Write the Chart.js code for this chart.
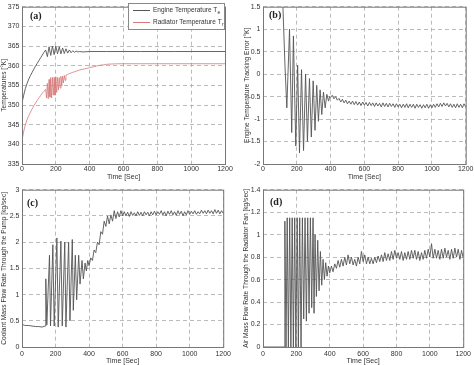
<!DOCTYPE html>
<html lang="en">
<head>
<meta charset="UTF-8" />
<title>Engine cooling simulation</title>
<script src="https://cdn.jsdelivr.net/npm/chart.js@4.4.1/dist/chart.umd.min.js"></script>
<style>
  body { margin: 0; background: #fff; }
  canvas { position: absolute; }
  #chartA { left: 0; top: 0; }
  #chartB { left: 234px; top: 0; }
  #chartC { left: 0; top: 183px; }
  #chartD { left: 234px; top: 183px; }
</style>
</head>
<body>
<canvas id="chartA" width="234" height="182"></canvas>
<canvas id="chartB" width="240" height="182"></canvas>
<canvas id="chartC" width="234" height="182"></canvas>
<canvas id="chartD" width="240" height="182"></canvas>

<script>
// ---- data ----
const timeTicks = [0, 200, 400, 600, 800, 1000, 1200];
const tempTicks = [335, 340, 345, 350, 355, 360, 365, 370, 375];
const errorTicks = [-2, -1.5, -1, -0.5, 0, 0.5, 1, 1.5];
const coolantTicks = [0, 0.5, 1, 1.5, 2, 2.5, 3];
const airTicks = [0, 0.2, 0.4, 0.6, 0.8, 1, 1.2, 1.4];

// (a) temperatures
const timeEngine = [0,10,20,30,40,50,60,70,80,90,100,110,120,130,140,150,160,170,180,190,200,210,220,230,240,250,260,270,280,290,300,310,320,330,340,360,400,500,600,700,800,900,1000,1100,1200];
const engineTemp = [350.5,352.5,354.2,355.5,356.6,357.5,358.3,359.1,359.9,360.6,361.3,362.0,362.7,363.4,364.0,362.3,364.8,362.6,365.0,362.8,365.0,363.0,364.8,363.0,364.5,363.1,364.3,363.2,364.0,363.3,363.8,363.4,363.7,363.5,363.6,363.5,363.6,363.6,363.6,363.6,363.6,363.6,363.6,363.6,363.6];
const timeRadiator = [0,10,20,30,40,50,60,70,80,90,100,110,120,130,140,145,150,155,160,165,170,175,180,185,190,195,200,205,210,215,220,225,230,235,240,245,250,255,260,270,280,300,320,340,360,380,400,420,440,460,480,500,540,580,600,700,800,900,1000,1100,1200];
const radiatorTemp = [341.0,343.3,345.0,346.3,347.3,348.2,349.0,349.8,350.5,351.2,351.8,352.4,353.0,353.5,354.0,351.8,355.5,351.6,356.5,352.0,357.0,351.8,357.0,352.5,357.0,352.5,357.2,353.2,357.0,353.8,357.0,354.3,357.3,354.8,357.3,355.6,357.5,356.3,357.6,357.8,358.0,358.3,358.6,358.9,359.1,359.3,359.5,359.7,359.9,360.1,360.2,360.35,360.45,360.5,360.5,360.5,360.5,360.5,360.5,360.5,360.5];

// shared sampling of the settled part (400..1200 s)
const timeTail = [400,410,420,430,440,450,460,470,480,490,500,510,520,530,540,550,560,570,580,590,600,610,620,630,640,650,660,670,680,690,700,710,720,730,740,750,760,770,780,790,800,810,820,830,840,850,860,870,880,890,900,910,920,930,940,950,960,970,980,990,1000,1010,1020,1030,1040,1050,1060,1070,1080,1090,1100,1110,1120,1130,1140,1150,1160,1170,1180,1190,1200];

// (b) tracking error
const timeErrorHead = [100,110,118,130,141,157,170,180,194,205,216,228,240,252,263,275,286,297,308,318,328,338,348,358,368,378,388,395];
const errorHead = [2.2,1.8,1.5,0.2,-0.75,1.0,-1.3,0.85,-1.6,0.2,-1.75,0.1,-1.7,0.0,-1.5,-0.1,-1.4,-0.15,-1.25,-0.25,-1.05,-0.35,-0.9,-0.4,-0.75,-0.45,-0.6,-0.5];
const errorTail = [-0.52,-0.47,-0.55,-0.5,-0.58,-0.54,-0.62,-0.56,-0.64,-0.58,-0.66,
  -0.6,-0.67,-0.6,-0.68,-0.61,-0.69,-0.62,-0.7,-0.62,-0.69,
  -0.63,-0.71,-0.63,-0.7,-0.64,-0.72,-0.64,-0.71,-0.65,-0.73,
  -0.64,-0.72,-0.65,-0.73,-0.65,-0.72,-0.66,-0.74,-0.66,-0.73,
  -0.67,-0.75,-0.67,-0.74,-0.66,-0.75,-0.67,-0.74,-0.67,-0.76,
  -0.67,-0.74,-0.68,-0.76,-0.68,-0.75,-0.67,-0.76,-0.68,-0.75,
  -0.67,-0.74,-0.66,-0.73,-0.65,-0.72,-0.64,-0.71,-0.65,-0.73,
  -0.66,-0.74,-0.67,-0.75,-0.66,-0.74,-0.67,-0.75,-0.66,-0.73];

// (c) coolant flow through the pump
const timeCoolantHead = [0,20,40,60,80,100,120,138,142,148,164,170,184,192,208,216,232,240,255,262,278,286,300,306,318,326,338,346,358,366,376,384,392];
const coolantHead = [0.43,0.41,0.41,0.4,0.39,0.39,0.38,0.4,1.3,0.42,1.75,0.4,1.95,0.4,2.08,0.38,2.02,0.4,2.0,0.38,2.0,0.5,2.05,0.7,1.75,0.9,1.75,1.2,1.65,1.3,1.6,1.45,1.65];
const coolantTail = [1.55,1.7,1.65,1.85,1.8,2.0,1.95,2.2,2.15,2.4,2.3,
  2.5,2.35,2.52,2.4,2.6,2.45,2.58,2.48,2.6,2.5,
  2.58,2.5,2.57,2.49,2.58,2.51,2.56,2.5,2.58,2.51,
  2.57,2.5,2.58,2.52,2.57,2.5,2.58,2.52,2.59,2.52,
  2.58,2.53,2.6,2.52,2.58,2.5,2.59,2.53,2.6,2.52,
  2.58,2.51,2.6,2.53,2.59,2.5,2.58,2.52,2.6,2.53,
  2.59,2.54,2.6,2.53,2.58,2.54,2.61,2.55,2.6,2.54,
  2.61,2.55,2.6,2.54,2.62,2.55,2.61,2.54,2.6,2.55];

// (d) air flow through the radiator fan
const timeAirHead = [0,130,131,138,145,152,160,167,175,182,190,197,205,212,220,228,236,244,252,260,268,276,284,292,300,306,312,320,328,336,344,352,360,368,376,384,392];
const airHead = [0,0,1.12,0,1.15,0,1.15,0,1.15,0,1.15,0,1.15,0,1.15,0,1.15,0.25,1.15,0.23,1.15,0.3,1.15,0.35,1.15,0.3,1.0,0.45,0.95,0.5,0.85,0.55,0.78,0.6,0.75,0.63,0.72];
const airTail = [0.66,0.72,0.67,0.74,0.7,0.77,0.71,0.78,0.72,0.8,0.73,
  0.82,0.74,0.8,0.73,0.78,0.72,0.8,0.74,0.85,0.76,
  0.82,0.74,0.8,0.74,0.79,0.74,0.8,0.75,0.81,0.76,
  0.82,0.76,0.84,0.77,0.83,0.77,0.85,0.78,0.86,0.79,
  0.84,0.78,0.85,0.77,0.84,0.78,0.85,0.78,0.86,0.79,
  0.86,0.78,0.85,0.77,0.84,0.78,0.86,0.79,0.87,0.8,
  0.92,0.79,0.87,0.79,0.86,0.78,0.87,0.79,0.88,0.8,
  0.86,0.78,0.87,0.79,0.88,0.8,0.87,0.78,0.86,0.79];

// ---- helpers ----
const FONT = { family: "'Liberation Sans', Arial, sans-serif", size: 7 };
const TEXT = '#333';
const LINE = '#555';

function pts(xs, ys) {
  return xs.map((x, i) => ({ x: x, y: ys[i] }));
}

// MATLAB style closed box around the axes + panel letter
const boxPlugin = {
  id: 'box',
  afterDraw(chart) {
    const a = chart.chartArea, ctx = chart.ctx;
    ctx.save();
    ctx.strokeStyle = '#777';
    ctx.lineWidth = 1;
    ctx.strokeRect(a.left + 0.5, a.top + 0.5, a.right - a.left, a.bottom - a.top);
    const lab = chart.options.plugins.box;
    ctx.fillStyle = '#222';
    ctx.font = "bold 10px 'Liberation Serif', 'DejaVu Serif', serif";
    ctx.textBaseline = 'middle';
    ctx.fillText(lab.text, lab.x, lab.y);
    ctx.restore();
  }
};

// legend of panel (a), with subscripts
const tempLegend = {
  id: 'tempLegend',
  afterDraw(chart) {
    const ctx = chart.ctx;
    const x0 = 128, y0 = 3, w = 96, h = 26;
    ctx.save();
    ctx.fillStyle = '#fff';
    ctx.fillRect(x0, y0, w, h);
    ctx.strokeStyle = '#888';
    ctx.lineWidth = 1;
    ctx.strokeRect(x0 + 0.5, y0 + 0.5, w, h);
    const rows = [
      { text: 'Engine Temperature T', sub: 'e', color: LINE, y: 10.5 },
      { text: 'Radiator Temperature T', sub: 'r', color: '#d77a7a', y: 22.5 }
    ];
    rows.forEach(r => {
      ctx.strokeStyle = r.color;
      ctx.beginPath();
      ctx.moveTo(133, r.y);
      ctx.lineTo(150, r.y);
      ctx.stroke();
      ctx.fillStyle = TEXT;
      ctx.font = "6.5px 'Liberation Sans', Arial, sans-serif";
      ctx.textBaseline = 'middle';
      ctx.fillText(r.text, 153, r.y);
      const tw = ctx.measureText(r.text).width;
      ctx.font = "5px 'Liberation Sans', Arial, sans-serif";
      ctx.fillText(r.sub, 153 + tw + 0.3, r.y + 2);
    });
    ctx.restore();
  }
};

function makePanel(id, p) {
  return new Chart(document.getElementById(id), {
    type: 'line',
    data: { datasets: p.datasets },
    options: {
      responsive: false,
      animation: false,
      events: [],
      layout: { padding: p.pad },
      elements: { point: { radius: 0 }, line: { borderWidth: 0.9, tension: 0 } },
      plugins: {
        legend: { display: false },
        tooltip: { enabled: false },
        box: p.label
      },
      scales: {
        x: {
          type: 'linear', min: 0, max: 1200,
          afterFit: s => { s.height = 18; },
          afterBuildTicks: s => { s.ticks = timeTicks.map(v => ({ value: v })); },
          grid: { color: '#aaa', lineWidth: 0.8, drawTicks: false },
          border: { display: false, dash: [4, 3] },
          ticks: { font: FONT, color: TEXT, padding: p.xTickPad, maxRotation: 0, callback: v => v },
          title: { display: true, text: 'Time [Sec]', font: FONT, color: TEXT, padding: { top: 0, bottom: p.xTitlePad } }
        },
        y: {
          type: 'linear', min: p.yTicks[0], max: p.yTicks[p.yTicks.length - 1],
          afterFit: s => { s.width = p.yWidth; },
          afterBuildTicks: s => { s.ticks = p.yTicks.map(v => ({ value: v })); },
          grid: { color: '#aaa', lineWidth: 0.8, drawTicks: false },
          border: { display: false, dash: [4, 3] },
          ticks: { font: FONT, color: TEXT, padding: 2.5, callback: v => v },
          title: { display: true, text: p.yTitle, font: { family: FONT.family, size: 6.6 }, color: TEXT, padding: { top: p.yTitlePad, bottom: 0 } }
        }
      }
    },
    plugins: p.extra ? [boxPlugin, p.extra] : [boxPlugin]
  });
}

makePanel('chartA', {
  pad: { left: 0, right: 9, top: 2, bottom: 0 },
  yWidth: 22, yTicks: tempTicks, yTitle: 'Temperatures [°K]', yTitlePad: 0,
  xTickPad: 0.5, xTitlePad: 1.2,
  label: { text: '(a)', x: 30, y: 16 },
  extra: tempLegend,
  datasets: [
    { data: pts(timeRadiator, radiatorTemp), borderColor: '#d77a7a', borderWidth: 0.8 },
    { data: pts(timeEngine, engineTemp), borderColor: LINE }
  ]
});

makePanel('chartB', {
  pad: { left: 0, right: 7, top: 3, bottom: 0 },
  yWidth: 29, yTicks: errorTicks, yTitle: 'Engine Temperature Tracking Error [°K]', yTitlePad: 9,
  xTickPad: 0.5, xTitlePad: 1.2,
  label: { text: '(b)', x: 35, y: 15 },
  datasets: [
    { data: pts(timeErrorHead, errorHead).concat(pts(timeTail, errorTail)), borderColor: LINE }
  ]
});

makePanel('chartC', {
  pad: { left: 0, right: 9, top: 5, bottom: 0 },
  yWidth: 22, yTicks: coolantTicks, yTitle: 'Coolant Mass Flow Rate Through the Pump [kg/sec]', yTitlePad: 0,
  xTickPad: 3, xTitlePad: 0,
  label: { text: '(c)', x: 27, y: 20 },
  datasets: [
    { data: pts(timeCoolantHead, coolantHead).concat(pts(timeTail, coolantTail)), borderColor: LINE }
  ]
});

makePanel('chartD', {
  pad: { left: 0, right: 7, top: 5, bottom: 0 },
  yWidth: 29, yTicks: airTicks, yTitle: 'Air Mass Flow Rate Through the Radiator Fan [kg/sec]', yTitlePad: 8.5,
  xTickPad: 3, xTitlePad: 0,
  label: { text: '(d)', x: 36, y: 19 },
  datasets: [
    { data: pts(timeAirHead, airHead).concat(pts(timeTail, airTail)), borderColor: LINE }
  ]
});
</script>
</body>
</html>
